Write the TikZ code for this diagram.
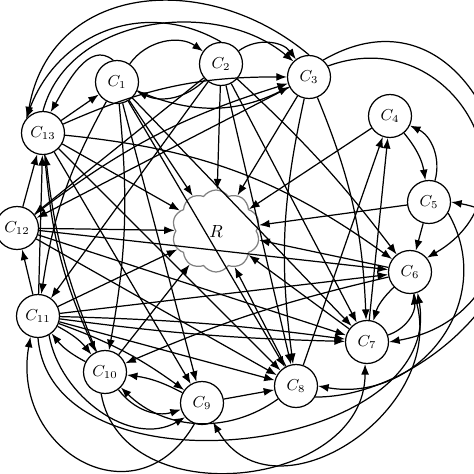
\documentclass[tikz,border=0pt]{standalone}
\usetikzlibrary{shapes.symbols,arrows.meta}
\begin{document}
\begin{tikzpicture}[x=0.02cm,y=0.02cm,
  cnode/.style={circle,draw,line width=0.7pt,minimum size=0.86cm,inner sep=0pt,fill=white,font=\small},
  arr/.style={-{Latex[length=6pt,width=4.5pt]},line width=0.7pt}]
\useasboundingbox (0,0) rectangle (474,-474);
\clip (0,0) rectangle (474,-474);
\node[cnode] (c1) at (117,-82) {$C_{1}$};
\node[cnode] (c2) at (221,-64) {$C_{2}$};
\node[cnode] (c3) at (309,-77) {$C_{3}$};
\node[cnode] (c4) at (390,-116) {$C_{4}$};
\node[cnode] (c5) at (429,-202) {$C_{5}$};
\node[cnode] (c6) at (410,-272) {$C_{6}$};
\node[cnode] (c7) at (367,-342) {$C_{7}$};
\node[cnode] (c8) at (296,-386) {$C_{8}$};
\node[cnode] (c9) at (202,-403) {$C_{9}$};
\node[cnode] (c10) at (105,-372) {$C_{10}$};
\node[cnode] (c11) at (38,-316) {$C_{11}$};
\node[cnode] (c12) at (17,-228) {$C_{12}$};
\node[cnode] (c13) at (43,-133) {$C_{13}$};
\node[cloud,cloud puffs=10,cloud puff arc=110,aspect=1.1,draw=gray,line width=0.7pt,fill=white,minimum width=1.76cm,minimum height=1.64cm,inner sep=0pt] (r) at (216,-231) {$R$};
% into R
\foreach \s in {c1,c2,c3,c4,c5,c6,c7,c8,c10,c11,c12,c13} \draw[arr] (\s) -- (r);
% top
\draw[arr] (c1) to[bend left=45] (c2);
\draw[arr] (c2) to[bend left=35] (c1);
\draw[arr] (c2) to[bend left=45] (c3);
\draw[arr] (c13.north) to[out=75,in=140,looseness=1.0] (c3.north west);
\draw[arr] (c3.north) to[out=140,in=80,looseness=1.2] (c13.north west);
\draw[arr] (c2.north) to[out=150,in=70,looseness=1.1] (c13.140);
\draw[arr] (c1.100) to[out=140,in=60] (c13.70);
\draw[arr] (c13) -- (c1);
\draw[arr] (c1) to[bend right=25] (c3);
\draw[arr] (c13) to[bend left=12] (c3);
\draw[arr] (c12) to[bend left=10] (c3);
\draw[arr] (c2) -- (c12);
\draw[arr] (c2) -- (c11);
\draw[arr] (c3) -- (c12);
\draw[arr] (c3) to[bend right=10] (c8);
\draw[arr] (c3) to[bend left=10] (c7);
\draw[arr] (c2) -- (c8);
\draw[arr] (c2) -- (c7);
\draw[arr] (c2) to[bend left=5] (c6);
\draw[arr] (c1) -- (c8);
\draw[arr] (c1) -- (c9);
\draw[arr] (c1) -- (c7);
\draw[arr] (c1) to[bend right=10] (c11);
\draw[arr] (c1) to[bend left=8] (c10);
\draw[arr] (c13) to[bend left=15] (c6);
\draw[arr] (c13) -- (c9);
\draw[arr] (c13) -- (c8);
\draw[arr] (c13) to[bend right=10] (c10);
% left
\draw[arr] (c12) -- (c13);
\draw[arr] (c11) -- (c13);
\draw[arr] (c11) -- (c12);
\draw[arr] (c10) to[bend left=8] (c13);
\draw[arr] (c12) -- (c7);
\draw[arr] (c12) -- (c6);
\draw[arr] (c12) -- (c8);
\draw[arr] (c11) to[bend left=3] (c7);
\draw[arr] (c11) to[bend right=3] (c7);
\draw[arr] (c11) -- (c6);
\draw[arr] (c11) -- (c8);
\draw[arr] (c11) to[bend left=8] (c9);
\draw[arr] (c11) to[bend left=12] (c10);
\draw[arr] (c10) to[bend left=12] (c11);
% bottom
\draw[arr] (c9) -- (c8);
\draw[arr] (c9) to[bend right=10] (c10);
\draw[arr] (c10) to[bend right=35] (c9);
\draw[arr] (c8) to[bend left=40] (c10);
\draw[arr] (c9.250) to[out=240,in=260,looseness=1.6] (c11.250);
\draw[arr] (c11.300) to[out=280,in=210] (c9.220);
\draw[arr] (c10.260) to[out=280,in=270,looseness=1.2] (c7.265);
\draw[arr] (c11.270) to[out=275,in=280,looseness=1.1] (c6.290);
\draw[arr] (c6.280) to[out=290,in=300,looseness=1.3] (c9.300);
\draw[arr] (c8.330) to[out=0,in=-10,looseness=1.4] (c5.east);
\draw[arr] (c6) to[bend right=5] (c10);
% right
\draw[arr] (c4) to[bend left=15] (c5);
\draw[arr] (c5) to[bend right=40] (c4);
\draw[arr] (c3.30) to[out=20,in=30,looseness=1.6] (c6.40);
\draw[arr] (c3.50) to[out=30,in=10,looseness=1.8] (c7.east);
\draw[arr] (c6) to[bend right=15] (c7);
\draw[arr] (c7) to[bend right=40] (c6);
\draw[arr] (c7) -- (c4);
\draw[arr] (c8) -- (c4);
\draw[arr] (c5) -- (c6);
\draw[arr] (c5.330) to[out=-60,in=-10,looseness=1.2] (c8.east);
\end{tikzpicture}
\end{document}
